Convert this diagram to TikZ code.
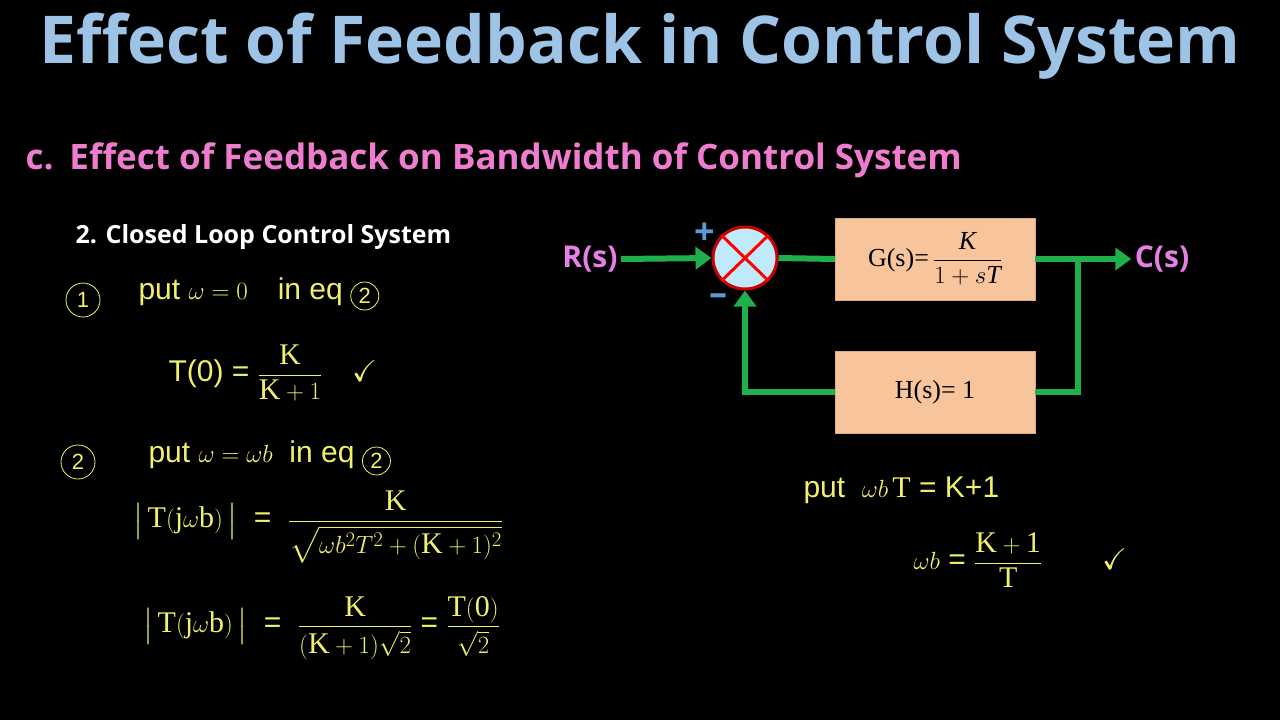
\documentclass[tikz,border=0pt]{standalone}
\usepackage{amsmath,amssymb}
\usepackage{fontspec}
\setmainfont{Liberation Serif}
\newfontfamily\titlef{Open Sans}
\newfontfamily\hand{Liberation Sans}
\usetikzlibrary{arrows.meta,shapes.geometric}
\definecolor{ttl}{HTML}{9DC3E6}
\definecolor{pnk}{HTML}{F07CD0}
\definecolor{grn}{HTML}{1FB04B}
\definecolor{peach}{HTML}{F8C49C}
\definecolor{yel}{HTML}{F2F06A}
\definecolor{blu}{HTML}{5B9BD5}
\definecolor{mag}{HTML}{E67FE6}
\begin{document}
\begin{tikzpicture}[x=1pt,y=-1pt,
  blk/.style={draw=peach!60!brown,fill=peach,minimum width=200pt,minimum height=82pt,font=\fontsize{26}{28}\selectfont},
  wire/.style={draw=grn,line width=6pt},
  arr/.style={wire,-{Triangle[length=16pt,width=22pt]}},
  hw/.style={text=yel,font=\hand\fontsize{30}{34}\selectfont,anchor=west},
  circ/.style={circle,draw=yel,thick,text=yel,font=\hand\fontsize{22}{22}\selectfont,inner sep=2pt,minimum size=34pt},
  sig/.style={text=mag,font=\titlef\bfseries\fontsize{30}{32}\selectfont}]
\fill[black] (0,0) rectangle (1280,720);
\node[text=ttl,font=\titlef\bfseries\fontsize{66}{70}\selectfont] (title) at (640,46) {Effect of Feedback in Control System};
\node[text=pnk,font=\titlef\bfseries\fontsize{35}{38}\selectfont,anchor=west] (sub) at (22,160) {c.\hspace{16pt}Effect of Feedback on Bandwidth of Control System};
\node[text=white,font=\titlef\bfseries\fontsize{25}{28}\selectfont,anchor=west] (cl) at (72,237) {2. Closed Loop Control System};
% diagram
\node[blk] (G) at (935,259) {G(s)=\,$\dfrac{\mathit{K}}{1+s\mathit{T}}$};
\node[blk] (H) at (935,392) {H(s)= 1};
\node[sig] (R) at (590,259) {R(s)};
\node[sig] (C) at (1162,259) {C(s)};
\node[ellipse,draw=red!80!black,line width=3pt,fill=cyan!25,minimum width=64pt,minimum height=62pt] (S) at (745,258) {};
\draw[red,line width=3pt] (S.north west)--(S.south east) (S.north east)--(S.south west);
\node[text=blu,font=\titlef\bfseries\fontsize{36}{36}\selectfont] (plus) at (705,234) {+};
\node[text=blu,font=\titlef\bfseries\fontsize{36}{36}\selectfont] (minus) at (718,300) {–};
\coordinate (J) at (1078,259);
\draw[arr] (R.east) -- (S.west);
\draw[wire] (S.east) -- (G.west);
\draw[arr] (G.east) -- (C.west);
\draw[wire] (H.east) -| (J);
\draw[arr] (H.west) -| (S.south);
% handwriting
\node[circ] (c1) at (83,300) {1};
\node[hw] (h1) at (135,292) {put $\omega = 0$\quad in eq};
\node[circ,minimum size=28pt,anchor=west] (e1) at ([xshift=4pt,yshift=-4pt]h1.east) {2};
\node[hw] (h2) at (165,373) {T(0) = $\dfrac{\mathrm K}{\mathrm K+1}$\quad$\checkmark$};
\node[circ] (c2) at (78,462) {2};
\node[hw] (h3) at (145,455) {put $\omega = \omega b$\ \ in eq};
\node[circ,minimum size=28pt,anchor=west] (e2) at ([xshift=4pt,yshift=-6pt]h3.east) {2};
\node[hw] (h4) at (130,527) {$\left|\,\mathrm{T(j\omega b)}\,\right|$\ \ =\ \ $\dfrac{\mathrm{K}}{\sqrt{\omega b^2 T^2 + (\mathrm K+1)^2}}$};
\node[hw] (h5) at (140,628) {$\left|\,\mathrm{T(j\omega b)}\,\right|$\ \ =\ \ $\dfrac{\mathrm K}{(\mathrm K+1)\sqrt2}$\ =\ $\dfrac{\mathrm{T(0)}}{\sqrt2}$};
\node[hw] (h6) at (800,490) {put\ \ $\omega b\,\mathrm T$ = K+1};
\node[hw] (h7) at (910,560) {$\omega b$ = $\dfrac{\mathrm{K+1}}{\mathrm T}$\qquad$\checkmark$};
\end{tikzpicture}
\end{document}
